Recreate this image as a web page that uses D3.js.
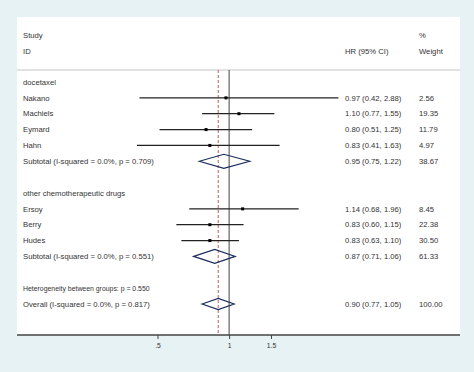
<!DOCTYPE html>
<html><head><meta charset="utf-8">
<script src="https://cdn.jsdelivr.net/npm/d3@7/dist/d3.min.js"></script>
<style>body{margin:0;background:#e7f2f4;}svg{display:block;}</style>
</head><body>
<svg id="c" width="474" height="372"></svg>
<script>
const studies = ["Nakano","Machiels","Eymard","Hahn","Ersoy","Berry","Hudes"];
const studyGroup = [0,0,0,0,1,1,1];
const hr = [0.97,1.10,0.80,0.83,1.14,0.83,0.83];
const lo = [0.42,0.77,0.51,0.41,0.68,0.60,0.63];
const hi = [2.88,1.55,1.25,1.63,1.96,1.15,1.10];
const weight = ["2.56","19.35","11.79","4.97","8.45","22.38","30.50"];
const groups = ["docetaxel","other chemotherapeutic drugs"];
const subLabels = ["Subtotal  (I-squared = 0.0%, p = 0.709)","Subtotal  (I-squared = 0.0%, p = 0.551)"];
const subHr = [0.95,0.87];
const subLo = [0.75,0.71];
const subHi = [1.22,1.06];
const subWeight = ["38.67","61.33"];
const hetText = "Heterogeneity between groups: p = 0.550";
const overallLabel = "Overall  (I-squared = 0.0%, p = 0.817)";
const overallHr = 0.90, overallLo = 0.77, overallHi = 1.05, overallWeight = "100.00";
const tickVals = [0.5, 1, 1.5];
const tickLabels = [".5", "1", "1.5"];

const fmt = d3.format(".2f");
const rows = [];
groups.forEach((g, gi) => {
  rows.push({type:"group", label:g});
  studies.forEach((s, i) => {
    if (studyGroup[i] === gi) rows.push({type:"study", label:s, hr:hr[i], lo:lo[i], hi:hi[i], w:weight[i]});
  });
  rows.push({type:"sub", label:subLabels[gi], hr:subHr[gi], lo:subLo[gi], hi:subHi[gi], w:subWeight[gi]});
  rows.push({type:"blank"});
});
rows.push({type:"het", label:hetText});
rows.push({type:"overall", label:overallLabel, hr:overallHr, lo:overallLo, hi:overallHi, w:overallWeight});

const svg = d3.select("#c");
const panel = {x0:17, x1:460, y0:17, y1:335};
const font = "'Liberation Sans', Arial, sans-serif";
const txt = "#333";
const fs = 7.7;

svg.append("rect").attr("x",panel.x0).attr("y",panel.y0)
  .attr("width",panel.x1-panel.x0).attr("height",panel.y1-panel.y0).attr("fill","#fff");

const x = d3.scaleLog().domain([0.5, 1.5]).range([157.5, 271]);
const y = d3.scaleLinear().domain([0, rows.length-1]).range([82, 304]);

const lineTop = 70;
const labelX = 23, hrX = 345, wX = 419;

const hdr = svg.append("g").attr("font-family",font).attr("font-size",fs).attr("fill",txt);
hdr.append("text").attr("x",labelX).attr("y",35).attr("dy","0.35em").text("Study");
hdr.append("text").attr("x",labelX).attr("y",51).attr("dy","0.35em").text("ID");
hdr.append("text").attr("x",wX).attr("y",35).attr("dy","0.35em").text("%");
hdr.append("text").attr("x",hrX).attr("y",51).attr("dy","0.35em").text("HR (95% CI)");
hdr.append("text").attr("x",wX).attr("y",51).attr("dy","0.35em").text("Weight");

svg.append("line").attr("x1",panel.x0).attr("x2",panel.x1).attr("y1",lineTop).attr("y2",lineTop)
  .attr("stroke","#d8d8d8").attr("stroke-width",1.5);

svg.append("line").attr("x1",x(1)).attr("x2",x(1)).attr("y1",lineTop).attr("y2",panel.y1)
  .attr("stroke","#444").attr("stroke-width",1);
svg.append("line").attr("x1",x(overallHr)).attr("x2",x(overallHr)).attr("y1",lineTop).attr("y2",panel.y1)
  .attr("stroke","#c25a5a").attr("stroke-width",1).attr("stroke-dasharray","3,2");

const g = svg.append("g");
rows.forEach((r, i) => {
  const yy = y(i);
  if (r.type === "blank") return;
  g.append("text").attr("x",labelX).attr("y",yy).attr("dy","0.35em")
    .attr("font-family",font).attr("font-size", r.type==="het" ? 6.9 : fs).attr("fill",txt).text(r.label);
  if (r.type === "study") {
    g.append("line").attr("x1",x(r.lo)).attr("x2",x(r.hi)).attr("y1",yy).attr("y2",yy)
      .attr("stroke","#222").attr("stroke-width",1.3);
    g.append("rect").attr("x",x(r.hr)-1.5).attr("y",yy-1.5).attr("width",3).attr("height",3).attr("fill","#000");
  }
  if (r.type === "sub" || r.type === "overall") {
    const h = r.type === "sub" ? 7 : 5.5;
    const pts = [[x(r.lo),yy],[x(r.hr),yy-h],[x(r.hi),yy],[x(r.hr),yy+h]];
    g.append("path").attr("d", d3.line()(pts) + "Z")
      .attr("fill","none").attr("stroke","#1c2d5e").attr("stroke-width",1.2);
  }
  if (r.hr !== undefined) {
    g.append("text").attr("x",hrX).attr("y",yy).attr("dy","0.35em")
      .attr("font-family",font).attr("font-size",fs).attr("fill",txt)
      .text(`${fmt(r.hr)} (${fmt(r.lo)}, ${fmt(r.hi)})`);
    g.append("text").attr("x",wX).attr("y",yy).attr("dy","0.35em")
      .attr("font-family",font).attr("font-size",fs).attr("fill",txt).text(r.w);
  }
});

const axis = d3.axisBottom(x).tickValues(tickVals).tickFormat((d,i)=>tickLabels[i]).tickSize(4).tickSizeOuter(0);
const ax = svg.append("g").attr("transform",`translate(0,${panel.y1})`).call(axis);
ax.select(".domain").remove();
ax.append("line").attr("x1",panel.x0).attr("x2",panel.x1).attr("y1",0).attr("y2",0)
  .attr("stroke","#444").attr("stroke-width",1.5);
ax.selectAll(".tick line").attr("stroke","#444");
ax.selectAll(".tick text").attr("font-family",font).attr("font-size",6.8).attr("fill",txt).attr("dy","0.9em");
</script>
</body></html>
